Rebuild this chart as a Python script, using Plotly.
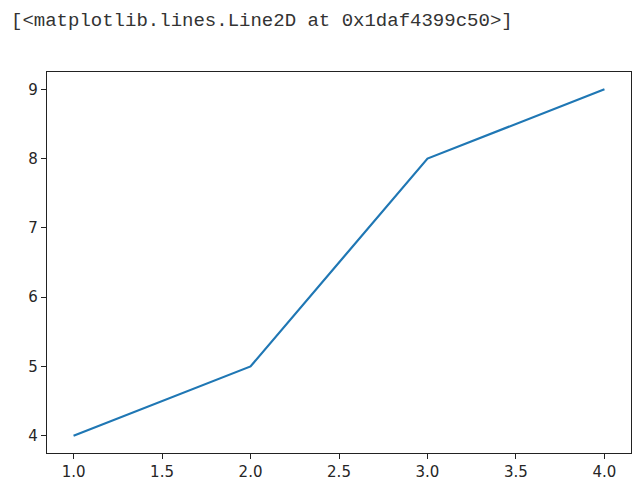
import plotly.graph_objects as go

x_vals = [1, 2, 3, 4]
y_vals = [4, 5, 8, 9]
x_ticks = [1.0, 1.5, 2.0, 2.5, 3.0, 3.5, 4.0]
x_tick_labels = ["1.0", "1.5", "2.0", "2.5", "3.0", "3.5", "4.0"]
y_ticks = [4, 5, 6, 7, 8, 9]
header_text = "[<matplotlib.lines.Line2D at 0x1daf4399c50>]"

fig = go.Figure()
fig.add_trace(go.Scatter(x=x_vals, y=y_vals, mode="lines",
                         line=dict(color="#1f77b4", width=2.2)))

axis_common = dict(showgrid=False, zeroline=False, showline=True, linecolor="#222222",
                   linewidth=1.2, mirror=True, ticks="outside", ticklen=5, tickwidth=1,
                   tickcolor="#222222",
                   tickfont=dict(family="DejaVu Sans", size=15, color="#262626"))

# page body has an 8px margin, so figure origin is at (8, 8)
W, H = 625, 476
L, R, T, B = 39, 2, 64, 31
fig.update_layout(
    width=W, height=H,
    paper_bgcolor="white", plot_bgcolor="white",
    margin=dict(l=L, r=R, t=T, b=B, pad=0),
    showlegend=False,
    xaxis=dict(range=[0.85, 4.15], tickvals=x_ticks, ticktext=x_tick_labels, **axis_common),
    yaxis=dict(range=[3.75, 9.25], tickvals=y_ticks, **axis_common),
    annotations=[dict(text=header_text, xref="paper", yref="paper",
                      x=(2 - L) / (W - L - R), y=1 + (T - 1) / (H - T - B),
                      xanchor="left", yanchor="top", borderpad=0,
                      showarrow=False,
                      font=dict(family="Liberation Mono", size=19, color="#333333"))],
)

fig.write_html("out.html")
